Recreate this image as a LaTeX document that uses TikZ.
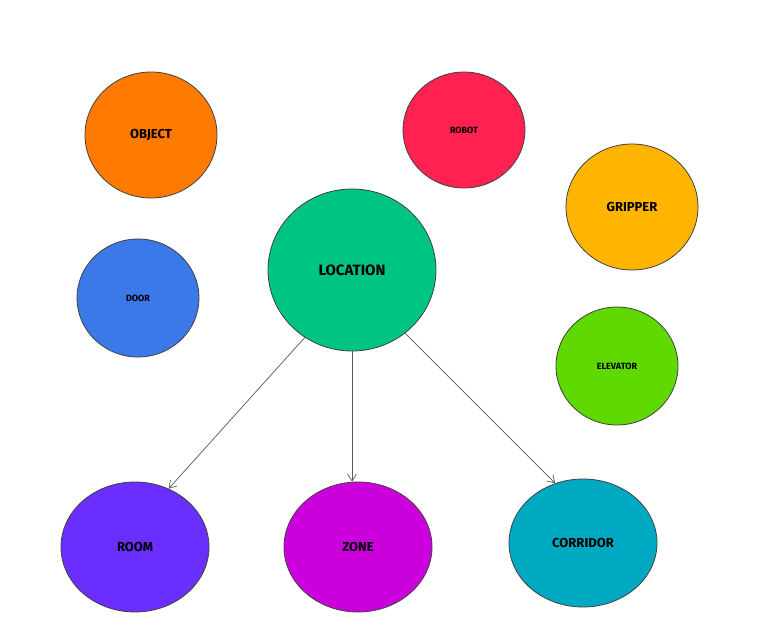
\documentclass[tikz,border=0pt]{standalone}
\usepackage{fontspec}
\setmainfont{Fira Sans}
\usetikzlibrary{shapes.geometric,arrows.meta}
\definecolor{cobj}{HTML}{FF7A00}
\definecolor{crob}{HTML}{FF2150}
\definecolor{cgrip}{HTML}{FFB500}
\definecolor{cdoor}{HTML}{3B78E8}
\definecolor{cloc}{HTML}{00C484}
\definecolor{celev}{HTML}{5FD900}
\definecolor{croom}{HTML}{6A2EFF}
\definecolor{czone}{HTML}{CC00DD}
\definecolor{ccor}{HTML}{00A9C2}
\tikzset{
 blob/.style={ellipse,draw=black!75,line width=0.8pt,inner sep=0pt,font=\fontsize{13}{14}\selectfont\bfseries},
 small/.style={font=\fontsize{9}{10}\selectfont\bfseries},
 conn/.style={draw=black!65,line width=0.7pt,-{Straight Barb[length=7pt,width=9pt]}}
}
\begin{document}
\begin{tikzpicture}[x=1pt,y=-1pt]
\useasboundingbox[fill=white] (0,0) rectangle (763,644);
\node[blob,fill=cobj,minimum width=132pt,minimum height=126pt] (obj) at (151,135) {OBJECT};
\node[blob,small,fill=crob,minimum width=122pt,minimum height=116pt] (rob) at (464,130) {ROBOT};
\node[blob,fill=cgrip,minimum width=132pt,minimum height=126pt] (grip) at (632,207) {GRIPPER};
\node[blob,small,fill=cdoor,minimum width=122pt,minimum height=118pt] (door) at (138,298) {DOOR};
\node[blob,fill=cloc,minimum width=168pt,minimum height=162pt,font=\fontsize{15}{16}\selectfont\bfseries] (loc) at (352,270) {LOCATION};
\node[blob,small,fill=celev,minimum width=122pt,minimum height=118pt] (elev) at (617,366) {ELEVATOR};
\node[blob,fill=croom,minimum width=148pt,minimum height=130pt] (room) at (135,547) {ROOM};
\node[blob,fill=czone,minimum width=148pt,minimum height=130pt] (zone) at (358,547) {ZONE};
\node[blob,fill=ccor,minimum width=148pt,minimum height=128pt] (cor) at (583,543) {CORRIDOR};
\draw[conn] (loc.-125) -- (room.60);
\draw[conn] (loc.south) -- (zone.north -| loc.south);
\draw[conn] (loc.-50) -- (cor.115);
\end{tikzpicture}
\end{document}
